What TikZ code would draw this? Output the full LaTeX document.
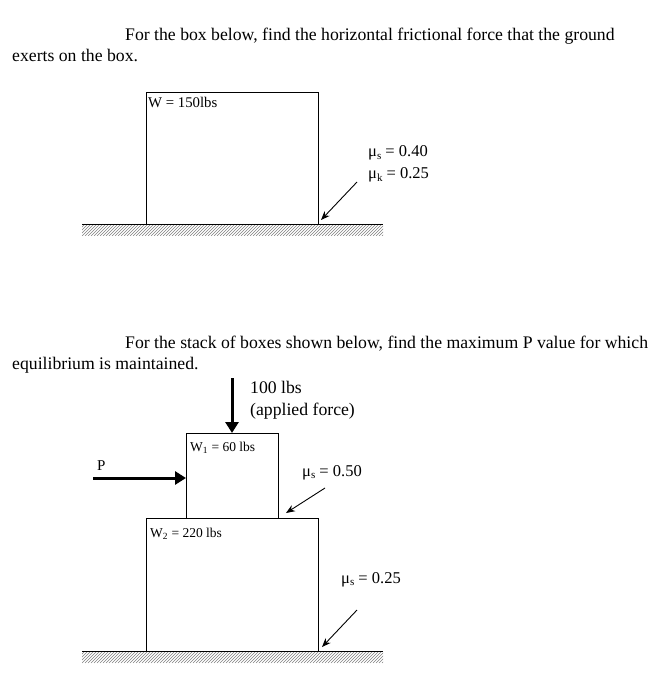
\documentclass[tikz,border=0pt]{standalone}
\usepackage{fontspec}
\setmainfont{Liberation Serif}
\usetikzlibrary{arrows.meta}
\begin{document}
\begin{tikzpicture}[x=1pt,y=-1pt,
  txt/.style={inner sep=0pt,anchor=base west,font=\fontsize{17.7}{21}\selectfont},
  sml/.style={inner sep=0pt,anchor=base west,font=\fontsize{14.8}{17}\selectfont},
  mu/.style={inner sep=0pt,anchor=base west,font=\fontsize{16.5}{19}\selectfont},
  boxs/.style={draw,line width=0.9pt},
  thin arrow/.style={-{Stealth[length=9pt,width=7pt]},line width=0.9pt},
  thick arrow/.style={-{Triangle[length=11pt,width=13pt]},line width=3pt}]
\useasboundingbox (0,0) rectangle (661,700);
\newcommand{\ground}[1]{%
  \begin{scope}
  \clip (82,#1) rectangle (383,#1+12);
  \foreach \i in {0,3,...,320}{\draw[gray,line width=0.6pt] (70+\i,#1+12) -- (82+\i,#1);}
  \end{scope}
  \draw[line width=0.8pt] (82,#1) -- (383,#1);}
\newcommand{\subs}[1]{\raisebox{-0.3ex}{\fontsize{11}{12}\selectfont #1}}
% problem 1
\node[txt] (t1) at (125,41) {For the box below, find the horizontal frictional force that the ground};
\node[txt] (t2) at (12,62) {exerts on the box.};
\node[boxs,minimum width=172pt,minimum height=132pt,anchor=north west,inner sep=0pt] (b1) at (146,92) {};
\node[sml] (w) at (148,108) {W = 150lbs};
\node[mu] (m1) at (368,157) {μ\subs{s} = 0.40};
\node[mu] (m2) at (368,179) {μ\subs{k} = 0.25};
\coordinate (a1) at (357,182);
\coordinate (a1e) at (321,220);
\draw[thin arrow] (a1) -- (a1e);
\ground{224}
% problem 2
\node[txt] (t3) at (125,348) {For the stack of boxes shown below, find the maximum P value for which};
\node[txt] (t4) at (12,369) {equilibrium is maintained.};
\node[boxs,minimum width=92pt,minimum height=85pt,anchor=north west,inner sep=0pt] (b2) at (186,433) {};
\node[boxs,minimum width=172pt,minimum height=133pt,anchor=north west,inner sep=0pt] (b3) at (146,518) {};
\node[sml,font=\fontsize{13.5}{16}\selectfont] (w1) at (190,451) {W\textsubscript{1} = 60 lbs};
\node[sml,font=\fontsize{13.5}{16}\selectfont] (w2) at (150,537) {W\textsubscript{2} = 220 lbs};
\node[txt] (f) at (250,393) {100 lbs};
\node[txt] (f2) at (250,415) {(applied force)};
\coordinate (ft) at (232,378);
\draw[thick arrow] (ft) -- (b2.north west -| ft);
\node[txt,font=\fontsize{15}{18}\selectfont] (p) at (97,470) {P};
\coordinate (ps) at (93,478);
\draw[thick arrow] (ps) -- (ps -| b2.west);
\node[mu] (m3) at (302,476) {μ\subs{s} = 0.50};
\coordinate (a2) at (325,488);
\coordinate (a2e) at (286,513);
\draw[thin arrow] (a2) -- (a2e);
\node[mu] (m4) at (341,583) {μ\subs{s} = 0.25};
\coordinate (a3) at (357,610);
\coordinate (a3e) at (322,647);
\draw[thin arrow] (a3) -- (a3e);
\ground{651}
\end{tikzpicture}
\end{document}
